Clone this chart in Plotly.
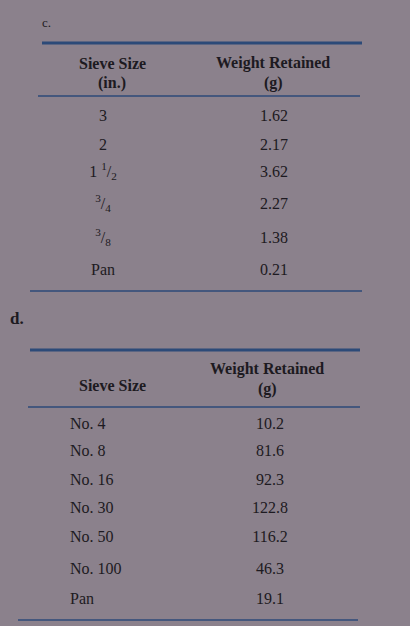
import plotly.graph_objects as go

# table c
c_sieve = ["3", "2", "1 <sup>1</sup>/<sub>2</sub>", "<sup>3</sup>/<sub>4</sub>", "<sup>3</sup>/<sub>8</sub>", "Pan"]
c_weight = ["1.62", "2.17", "3.62", "2.27", "1.38", "0.21"]
c_rows = [117, 146, 173, 205, 239, 271]

# table d
d_sieve = ["No. 4", "No. 8", "No. 16", "No. 30", "No. 50", "No. 100", "Pan"]
d_weight = ["10.2", "81.6", "92.3", "122.8", "116.2", "46.3", "19.1"]
d_rows = [425, 452, 481, 509, 538, 570, 600]

bg = "#8b818c"
ink = "#1d1a21"
rule = "#2c4a78"
font = dict(family="Liberation Serif", size=16, color=ink)
bold = dict(family="Liberation Serif", size=16, color=ink, weight="bold")

fig = go.Figure()
fig.add_trace(go.Scatter(x=[103] * len(c_sieve), y=c_rows, text=c_sieve, mode="text",
                         textfont=font, hoverinfo="skip"))
fig.add_trace(go.Scatter(x=[274] * len(c_weight), y=c_rows, text=c_weight, mode="text",
                         textfont=font, hoverinfo="skip"))
fig.add_trace(go.Scatter(x=[70] * len(d_sieve), y=d_rows, text=d_sieve, mode="text",
                         textposition="middle right", textfont=font, hoverinfo="skip"))
fig.add_trace(go.Scatter(x=[270] * len(d_weight), y=d_rows, text=d_weight, mode="text",
                         textfont=font, hoverinfo="skip"))

def note(x, y, t, f=bold, anchor="center"):
    fig.add_annotation(x=x, y=y, text=t, showarrow=False, font=f, xanchor=anchor)

note(40, 22, "c.", dict(family="Liberation Serif", size=13, color=ink), "left")
note(8, 318, "d.", dict(family="Liberation Serif", size=17, color=ink, weight="bold"), "left")
note(112, 63, "Sieve Size")
note(112, 83, "(in.)")
note(273, 63, "Weight Retained")
note(273, 83, "(g)")
note(112, 385, "Sieve Size")
note(267, 369, "Weight Retained")
note(267, 389, "(g)")

for x0, x1, y, w in [(42, 362, 43, 3), (38, 360, 96, 1.5), (30, 362, 291, 1.5),
                     (30, 360, 350, 3), (28, 360, 407, 1.5), (18, 358, 620, 1.5)]:
    fig.add_shape(type="line", x0=x0, x1=x1, y0=y, y1=y, line=dict(color=rule, width=w))

fig.update_layout(width=410, height=626, margin=dict(l=0, r=0, t=0, b=0),
                  paper_bgcolor=bg, plot_bgcolor=bg, showlegend=False,
                  xaxis=dict(range=[0, 410], visible=False, fixedrange=True),
                  yaxis=dict(range=[626, 0], visible=False, fixedrange=True))
fig.write_html("out.html", config={"displayModeBar": False},
               post_script="document.body.style.margin='0';document.body.style.overflow='hidden';"
                           "document.body.style.background='#8b818c';")
